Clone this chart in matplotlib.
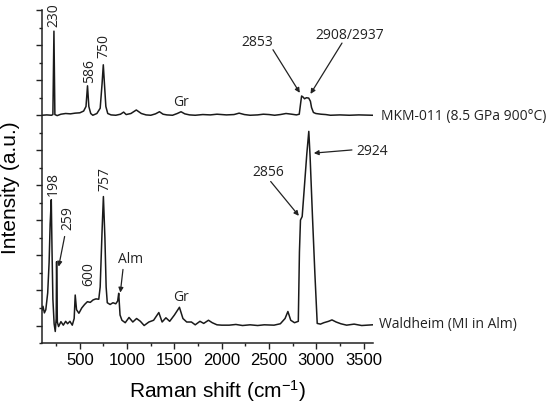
import matplotlib
matplotlib.use("Agg")
import matplotlib.pyplot as plt
from matplotlib.ticker import MultipleLocator, NullFormatter

# MKM-011 (8.5 GPa 900°C), offset upper spectrum
mkm_shift = [100, 150, 200, 215, 226, 236, 260, 300, 350, 400, 450, 500, 540, 565,
             581, 595, 615, 637, 680, 715, 735, 748, 760, 775, 795, 830, 880, 930,
             963, 990, 1040, 1097, 1150, 1200, 1250, 1300, 1342, 1380, 1420, 1480,
             1530, 1570, 1610, 1660, 1720, 1800, 1880, 1950, 2050, 2130, 2184, 2240,
             2300, 2380, 2440, 2500, 2560, 2620, 2680, 2740, 2790, 2820, 2835, 2845,
             2860, 2876, 2895, 2920, 2938, 2950, 2970, 2995, 3050, 3100, 3150, 3250,
             3350, 3450, 3595]
mkm_int = [6.50, 6.51, 6.50, 6.52, 8.90, 6.52, 6.49, 6.53, 6.55, 6.54, 6.56, 6.57,
           6.62, 6.75, 7.34, 6.75, 6.55, 6.50, 6.55, 6.70, 7.40, 7.94, 7.40, 6.75,
           6.55, 6.51, 6.50, 6.53, 6.59, 6.52, 6.55, 6.65, 6.55, 6.51, 6.50, 6.54,
           6.60, 6.53, 6.51, 6.50, 6.55, 6.60, 6.54, 6.51, 6.50, 6.52, 6.51, 6.53,
           6.51, 6.52, 6.56, 6.52, 6.50, 6.51, 6.53, 6.52, 6.50, 6.52, 6.55, 6.53,
           6.51, 6.53, 6.85, 7.05, 7.02, 6.97, 7.00, 6.99, 6.90, 6.72, 6.58, 6.55,
           6.53, 6.52, 6.50, 6.51, 6.50, 6.51, 6.50]

# Waldheim (MI in Alm), lower spectrum
wal_shift = [100, 110, 125, 140, 160, 175, 186, 198, 206, 215, 228, 240, 250, 254,
             262, 275, 300, 325, 350, 370, 395, 420, 440, 451, 465, 490, 520, 550,
             580, 610, 640, 670, 700, 715, 735, 749, 765, 778, 790, 820, 850, 880,
             900, 911, 925, 945, 980, 1020, 1060, 1100, 1140, 1180, 1230, 1280, 1335,
             1370, 1410, 1450, 1500, 1553, 1590, 1630, 1680, 1720, 1770, 1810, 1860,
             1900, 1950, 2000, 2079, 2150, 2220, 2300, 2380, 2450, 2553, 2620, 2670,
             2700, 2730, 2770, 2810, 2822, 2833, 2851, 2870, 2900, 2921, 2935, 2960,
             2985, 3010, 3044, 3080, 3130, 3166, 3210, 3260, 3321, 3400, 3480, 3595]
wal_int = [0.94, 1.05, 0.86, 0.95, 1.43, 2.30, 3.40, 4.09, 2.60, 1.25, 0.55, 0.33,
           0.70, 2.32, 0.60, 0.47, 0.61, 0.51, 0.62, 0.55, 0.62, 0.51, 0.70, 1.37,
           0.95, 0.85, 1.00, 1.10, 1.18, 1.16, 1.23, 1.26, 1.25, 1.60, 3.20, 4.18,
           3.00, 1.60, 1.15, 1.10, 1.15, 1.12, 1.20, 1.42, 0.80, 0.65, 0.58, 0.73,
           0.60, 0.70, 0.62, 0.50, 0.60, 0.65, 0.87, 0.60, 0.72, 0.62, 0.80, 1.02,
           0.70, 0.60, 0.60, 0.52, 0.62, 0.56, 0.65, 0.58, 0.52, 0.51, 0.51, 0.53,
           0.50, 0.52, 0.50, 0.52, 0.51, 0.55, 0.70, 0.90, 0.65, 0.58, 0.62, 2.60,
           3.51, 3.61, 4.30, 5.40, 6.04, 5.30, 3.60, 2.00, 0.56, 0.54, 0.58, 0.62,
           0.66, 0.60, 0.55, 0.51, 0.54, 0.50, 0.52]

# rotated peak labels: (text, x, y)
vert_labels = [("230", 226, 9.37), ("586", 605, 7.77), ("750", 749, 8.49),
               ("198", 221, 4.54), ("259", 377, 3.56), ("757", 768, 4.69),
               ("600", 593, 1.96)]
# horizontal labels: (text, x, baseline y)
horiz_labels = [("Gr", 1574, 6.77), ("2853", 2379, 8.47), ("2908/2937", 3351, 8.69),
                ("Alm", 1035, 2.28), ("Gr", 1574, 1.21), ("2856", 2491, 4.78),
                ("2924", 3595, 5.37)]
# arrows: (tail x, tail y, head x, head y)
arrows = [(2542, 8.37, 2826, 7.14), (3272, 8.56, 2939, 7.11),
          (339, 3.04, 276, 2.18), (956, 2.10, 928, 1.44),
          (2518, 4.61, 2816, 3.63), (3377, 5.51, 2974, 5.42)]

plt.rcParams["font.family"] = ["Liberation Sans", "DejaVu Sans"]
plt.rcParams["mathtext.default"] = "regular"
ann_font = ["Open Sans", "DejaVu Sans"]

fig = plt.figure(figsize=(5.5, 4.05), dpi=100)
ax = fig.add_axes([0.0764, 0.153, 0.6018, 0.822])

ax.plot(mkm_shift, mkm_int, color="#1a1a1a", linewidth=1.1)
ax.plot(wal_shift, wal_int, color="#1a1a1a", linewidth=1.1)

for text, x, y in vert_labels:
    ax.text(x, y, text, rotation=90, ha="center", va="center", fontsize=10,
            family=ann_font, color="#222222", clip_on=False)
for text, x, y in horiz_labels:
    ax.text(x, y, text, ha="center", va="baseline", fontsize=10,
            family=ann_font, color="#222222", clip_on=False)
for x0, y0, x1, y1 in arrows:
    ax.annotate("", xy=(x1, y1), xytext=(x0, y0),
                arrowprops=dict(arrowstyle="-|>", color="#222222", lw=0.9,
                                mutation_scale=7, shrinkA=0, shrinkB=0),
                annotation_clip=False)

ax.text(3689, 6.37, "MKM-011 (8.5 GPa 900°C)", ha="left", va="baseline",
        fontsize=10, family=ann_font, color="#222222", clip_on=False)
ax.text(3668, 0.42, "Waldheim (MI in Alm)", ha="left", va="baseline",
        fontsize=10, family=ann_font, color="#222222", clip_on=False)

ax.set_xlim(100, 3600)
ax.set_ylim(0, 9.5)
ax.xaxis.set_major_locator(MultipleLocator(500))
ax.xaxis.set_minor_locator(MultipleLocator(250))
ax.yaxis.set_major_locator(MultipleLocator(1.0, offset=0.5))
ax.yaxis.set_minor_locator(MultipleLocator(0.5))
ax.yaxis.set_major_formatter(NullFormatter())

for side in ["top", "right"]:
    ax.spines[side].set_visible(False)
for side in ["left", "bottom"]:
    ax.spines[side].set_linewidth(1.1)
    ax.spines[side].set_color("#222222")

ax.tick_params(which="major", direction="out", length=4, width=1.0,
               color="#222222", labelsize=12, pad=3)
ax.tick_params(which="minor", direction="out", length=2.2, width=1.0,
               color="#222222")

ax.set_xlabel("Raman shift (cm$^{-1}$)", fontsize=15, va="center")
ax.set_ylabel("Intensity (a.u.)", fontsize=15, va="center")
ax.xaxis.set_label_coords(0.529, -0.144)
ax.yaxis.set_label_coords(-0.094, 0.468)

fig.savefig("out.png", dpi=100)
